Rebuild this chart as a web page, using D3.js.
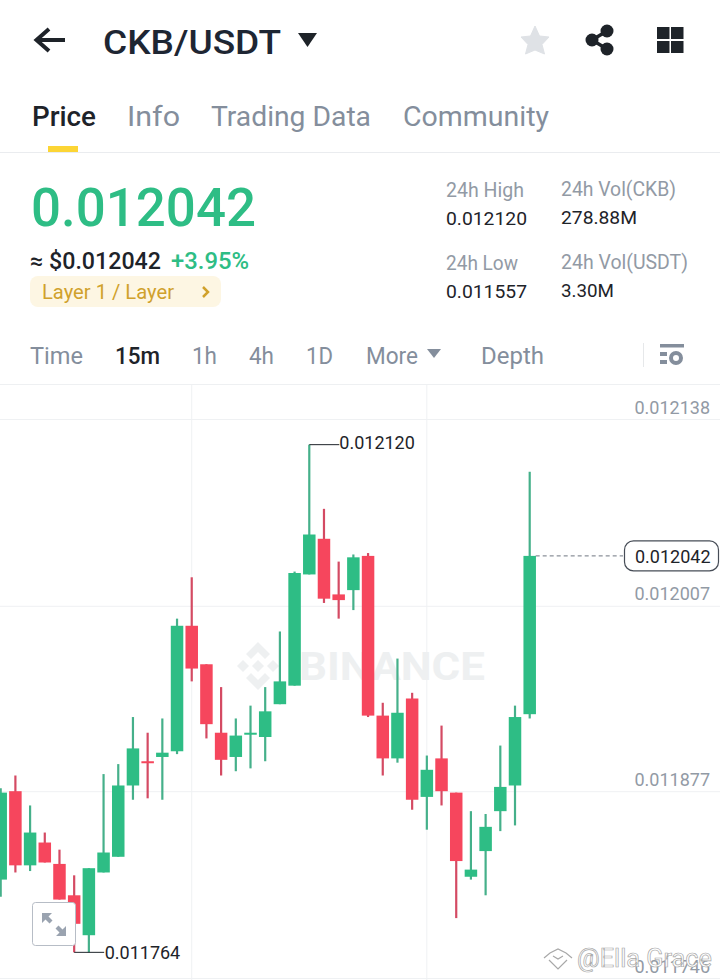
<!DOCTYPE html>
<html>
<head>
<meta charset="utf-8">
<title>CKB/USDT</title>
<script src="https://cdn.jsdelivr.net/npm/d3@7"></script>
<style>
html, body { margin: 0; padding: 0; background: #fff; }
svg { display: block; }
text { font-family: Roboto, sans-serif; }
</style>
</head>
<body>
<div id="chart"></div>
<script>
// 15m candles, oldest first
const opens = [0.011815, 0.011877, 0.011825, 0.011841, 0.011826, 0.011804, 0.011776, 0.011820, 0.011831, 0.011881,
    0.011898, 0.011901, 0.011905, 0.011993, 0.011966, 0.011918, 0.011901, 0.011917, 0.011915, 0.011938,
    0.011951, 0.012029, 0.012054, 0.012015, 0.012018, 0.012042, 0.011930, 0.011900, 0.011942, 0.011873,
    0.011900, 0.011876, 0.011817, 0.011835, 0.011863, 0.011881, 0.011931];
const closes = [0.011876, 0.011825, 0.011848, 0.011827, 0.011801, 0.011784, 0.011823, 0.011834, 0.011881, 0.011907,
    0.011897, 0.011904, 0.011993, 0.011963, 0.011924, 0.011899, 0.011916, 0.011918, 0.011933, 0.011954,
    0.012030, 0.012057, 0.012012, 0.012011, 0.012041, 0.011930, 0.011900, 0.011932, 0.011871, 0.011892,
    0.011877, 0.011828, 0.011822, 0.011852, 0.011880, 0.011929, 0.012042];
const highs = [0.011879, 0.011888, 0.011867, 0.011848, 0.011836, 0.011818, 0.011823, 0.011889, 0.011896, 0.011929,
    0.011918, 0.011928, 0.011998, 0.012027, 0.011966, 0.011950, 0.011928, 0.011937, 0.011950, 0.011989,
    0.012031, 0.012120, 0.012075, 0.012038, 0.012043, 0.012044, 0.011939, 0.011970, 0.011946, 0.011902,
    0.011923, 0.011876, 0.011863, 0.011861, 0.011909, 0.011937, 0.012101];
const lows = [0.011803, 0.011820, 0.011821, 0.011827, 0.011801, 0.011764, 0.011764, 0.011820, 0.011831, 0.011871,
    0.011872, 0.011871, 0.011903, 0.011954, 0.011914, 0.011888, 0.011891, 0.011893, 0.011898, 0.011938,
    0.011951, 0.012029, 0.012009, 0.011998, 0.012004, 0.011929, 0.011888, 0.011897, 0.011864, 0.011850,
    0.011867, 0.011788, 0.011815, 0.011804, 0.011849, 0.011853, 0.011928];

const priceTicks = [0.012138, 0.012007, 0.011877, 0.011746];
const timeGrid = [13, 29];
const lastPrice = 0.012042;
const highMark = { index: 21, price: 0.012120 };
const lowMark = { index: 5, price: 0.011764 };

const tabs = ["Price", "Info", "Trading Data", "Community"];
const intervals = ["Time", "15m", "1h", "4h", "1D", "More", "Depth"];

const green = "#2ebd85";
const red = "#f6465d";
const dark = "#1e2329";
const grey = "#848e9c";

const svg = d3.select("#chart").append("svg")
    .attr("width", 720)
    .attr("height", 980)
    .style("background-color", "#fff");

function label(x, y, str, size, color, weight, width) {
    let t = svg.append("text")
        .attr("x", x)
        .attr("y", y)
        .attr("font-size", size)
        .attr("font-weight", weight || 400)
        .attr("fill", color)
        .text(str);
    if (width) {
        t.attr("textLength", width).attr("lengthAdjust", "spacingAndGlyphs");
    }
    return t;
}

// header
svg.append("path")
    .attr("d", "M65,40H38M49,29L36.500,40L49,51")
    .attr("fill", "none").attr("stroke", dark).attr("stroke-width", 4);
label(103, 54, "CKB/USDT", 34, "#1e2633", 500, 178);
svg.append("path").attr("d", "M298,33H317L307.500,47Z").attr("fill", dark);
svg.append("path")
    .attr("d", "M535,26L539.500,36L549,37L542,44.500L544.500,54L535,50L525.500,54L528,44.500L521,37L530.500,36Z")
    .attr("fill", "#dfe2e6").attr("stroke", "#dfe2e6").attr("stroke-width", 1).attr("stroke-linejoin", "round");
svg.append("path").attr("d", "M607,31L592,40L607,49").attr("fill", "none").attr("stroke", dark).attr("stroke-width", 3.500);
[[607, 31], [592, 40], [607, 49]].forEach(p => {
    svg.append("circle").attr("cx", p[0]).attr("cy", p[1]).attr("r", 6.500).attr("fill", dark);
});
[[657, 27], [671, 27], [657, 41], [671, 41]].forEach(p => {
    svg.append("rect").attr("x", p[0]).attr("y", p[1]).attr("width", 12.500).attr("height", 12).attr("fill", dark);
});

// tabs
const tabX = d3.scaleOrdinal().domain(tabs).range([32, 127, 211, 403]);
const tabW = d3.scaleOrdinal().domain(tabs).range([64, 53, 160, 146]);
tabs.forEach((t, i) => {
    label(tabX(t), 126, t, 28, i === 0 ? dark : grey, i === 0 ? 500 : 400, tabW(t));
});
svg.append("rect").attr("x", 48).attr("y", 146).attr("width", 30).attr("height", 6).attr("fill", "#fcd535");
svg.append("rect").attr("x", 0).attr("y", 152).attr("width", 720).attr("height", 1).attr("fill", "#eaecef");

// price block
label(31, 226, "0.012042", 54, green, 500, 225);
label(30, 269, "≈ $0.012042", 23, dark, 500, 131);
label(171, 269, "+3.95%", 23, green, 500, 78);
svg.append("rect").attr("x", 30).attr("y", 276).attr("width", 191).attr("height", 31).attr("rx", 8).attr("fill", "#fdf6e3");
label(42, 299, "Layer 1 / Layer", 20, "#d0a12c", 400, 132);
svg.append("path").attr("d", "M203,287L208,292L203,297").attr("fill", "none").attr("stroke", "#d0a12c").attr("stroke-width", 2.500);

label(446, 197, "24h High", 20, "#929aa5", 400, 78);
label(446, 225, "0.012120", 19, dark, 400, 81);
label(561, 196, "24h Vol(CKB)", 20, "#929aa5", 400, 115);
label(561, 224, "278.88M", 19, dark, 400, 76);
label(446, 270, "24h Low", 20, "#929aa5", 400, 72);
label(446, 298, "0.011557", 19, dark, 400, 81);
label(561, 269, "24h Vol(USDT)", 20, "#929aa5", 400, 127);
label(561, 297, "3.30M", 19, dark, 400, 53);

// interval bar
const intervalX = d3.scaleOrdinal().domain(intervals).range([30, 115, 192, 249, 306, 366, 481]);
const intervalW = d3.scaleOrdinal().domain(intervals).range([53, 45, 25, 25, 27, 52, 63]);
intervals.forEach(t => {
    label(intervalX(t), 364, t, 24, t === "15m" ? dark : grey, t === "15m" ? 500 : 400, intervalW(t));
});
svg.append("path").attr("d", "M427,349H441L434,358Z").attr("fill", grey);
svg.append("rect").attr("x", 643).attr("y", 343).attr("width", 1).attr("height", 24).attr("fill", "#e6e8ea");
svg.append("path").attr("d", "M660,344H684V347.500H660ZM660,352H667V356H660ZM660,360H667V364H660Z").attr("fill", grey);
svg.append("circle").attr("cx", 676).attr("cy", 358).attr("r", 5).attr("fill", "none").attr("stroke", grey).attr("stroke-width", 4);
svg.append("rect").attr("x", 0).attr("y", 384).attr("width", 720).attr("height", 1).attr("fill", "#eef0f2");

// chart
const x = d3.scaleLinear().domain([0, 36]).range([0.7, 529.7]);
const y = d3.scaleLinear().domain([0.011746, 0.012138]).range([978, 419]);

const bodyW = 12.5;

const gridY = svg.append("g")
    .call(d3.axisRight(y).tickValues(priceTicks).tickSize(720).tickFormat(d => d.toFixed(6)));
gridY.select(".domain").remove();
gridY.selectAll("line").attr("stroke", "#eff1f3");
gridY.selectAll("text")
    .attr("x", 710).attr("dy", -6).attr("text-anchor", "end")
    .attr("font-size", 18).attr("font-family", "Roboto, sans-serif")
    .attr("fill", "#929aa5");

svg.append("g").selectAll("line").data(timeGrid).enter().append("line")
    .attr("x1", d => x(d)).attr("x2", d => x(d))
    .attr("y1", 385).attr("y2", 980)
    .attr("stroke", "#eff1f3");

// faint logo
svg.append("g").attr("fill", "#eef0f1")
    .selectAll("path")
    .data(["M258,642L270,654L265,659L258,652L251,659L246,654Z",
        "M258,690L246,678L251,673L258,680L265,673L270,678Z",
        "M237,666L243,660L249,666L243,672Z",
        "M267,666L273,660L279,666L273,672Z",
        "M258,660L264,666L258,672L252,666Z"])
    .enter().append("path").attr("d", d => d);
label(299, 680, "BINANCE", 38, "#eef0f1", 700, 186);

const idx = d3.range(opens.length);
const isUp = i => closes[i] >= opens[i];

svg.append("g").selectAll("line").data(idx).enter().append("line")
    .attr("x1", i => x(i)).attr("x2", i => x(i))
    .attr("y1", i => y(highs[i])).attr("y2", i => y(lows[i]))
    .attr("stroke", i => isUp(i) ? "#45b08a" : "#d44a63")
    .attr("stroke-width", 2.2);

svg.append("g").selectAll("rect").data(idx).enter().append("rect")
    .attr("x", i => x(i) - bodyW / 2)
    .attr("width", bodyW)
    .attr("y", i => y(Math.max(opens[i], closes[i])))
    .attr("height", i => Math.max(2, Math.abs(y(opens[i]) - y(closes[i]))))
    .attr("fill", i => isUp(i) ? green : red);

// high / low markers
[highMark, lowMark].forEach(m => {
    svg.append("line")
        .attr("x1", x(m.index)).attr("x2", x(m.index) + 30)
        .attr("y1", y(m.price)).attr("y2", y(m.price))
        .attr("stroke", dark).attr("stroke-width", 1);
});
label(x(highMark.index) + 30, y(highMark.price) + 4.500, highMark.price.toFixed(6), 18, dark);
label(x(lowMark.index) + 30.500, y(lowMark.price) + 7, lowMark.price.toFixed(6), 18, dark);

// last price tag
svg.append("line")
    .attr("x1", x(36) + 6).attr("x2", 623)
    .attr("y1", y(lastPrice)).attr("y2", y(lastPrice))
    .attr("stroke", "#6f7680").attr("stroke-width", 1).attr("stroke-dasharray", "4,3");
svg.append("rect")
    .attr("x", 624.500).attr("y", y(lastPrice) - 15)
    .attr("width", 94).attr("height", 30).attr("rx", 9)
    .attr("fill", "#fff").attr("stroke", "#474d57").attr("stroke-width", 1.200);
label(635, y(lastPrice) + 7, lastPrice.toFixed(6), 18, dark);

// expand button
svg.append("rect")
    .attr("x", 32.500).attr("y", 902.500).attr("width", 43).attr("height", 43).attr("rx", 3)
    .attr("fill", "#fff").attr("stroke", "#b7bdc6").attr("stroke-width", 1);
svg.append("path")
    .attr("d", "M42,913H52L48.500,916.500L52.500,920.500L49.500,923.500L45.500,919.500L42,923ZM66,936H56L59.500,932.500L55.500,928.500L58.500,925.500L62.500,929.500L66,926Z")
    .attr("fill", "#9aa3b0");

// repost watermark
svg.append("path")
    .attr("d", "M544,958L550,953L558,949L566,953L572,958M549,960L558,969L567,960M553,956L558,959L563,956")
    .attr("fill", "none").attr("stroke", "#a8a8a8").attr("stroke-width", 1.200);
label(577, 967, "@Ella Grace", 25, "#fff", 400, 135)
    .attr("stroke", "#a8a8a8").attr("stroke-width", 0.700);
</script>
</body>
</html>
